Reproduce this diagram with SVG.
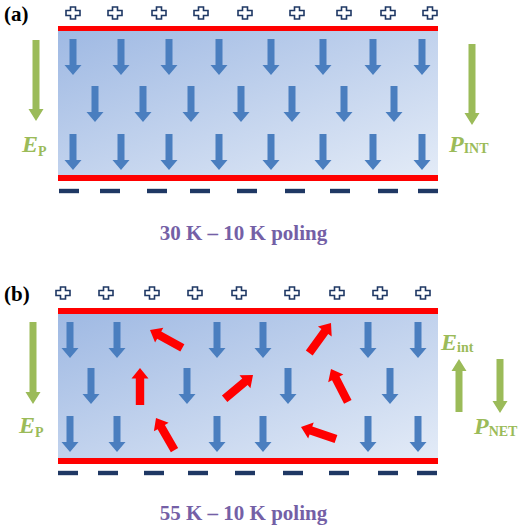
<svg xmlns="http://www.w3.org/2000/svg" xmlns:xlink="http://www.w3.org/1999/xlink" width="520" height="527" viewBox="0 0 520 527">
<style>
.plus{fill:#fff;stroke:#1f3864;stroke-width:1.6}
.minus{fill:#1f3864}
.red{fill:#ff0000}
.blue{fill:#4a7ebf}
.green{fill:#9bbb59}
.lab{font-family:"Liberation Serif",serif;font-weight:bold;font-size:21px;fill:#000}
.cap{font-family:"Liberation Serif",serif;font-weight:bold;font-size:21px;fill:#7460a6}
.sym{font-family:"Liberation Serif",serif;font-weight:bold;font-style:italic;font-size:24px;fill:#9bbb59}
.sub{font-style:normal;font-size:14px}
</style>
<defs>
<linearGradient id="g" x1="0" y1="0" x2="1" y2="1">
<stop offset="0" stop-color="#9fb9e3"/>
<stop offset="1" stop-color="#e3ebf7"/>
</linearGradient>
<path id="plus" class="plus" d="M-2.5,-6H2.5V-2.5H7V2.5H2.5V6H-2.5V2.5H-7V-2.5H-2.5Z"/>
<rect id="minus" class="minus" x="-10" y="-2.2" width="20" height="4.4"/>
<path id="ba" class="blue" d="M-3.5,0H3.5V26H8.5L0,36L-8.5,26H-3.5Z"/>
<path id="ra" class="red" d="M0,0L8.5,10.5H4.2V37H-4.2V10.5H-8.5Z"/>
</defs>

<text class="lab" x="4" y="21">(a)</text>
<g id="panel-a">
<rect x="58" y="31" width="380" height="144" fill="url(#g)"/>
<rect x="58" y="26" width="380" height="5" fill="#ff0000"/>
<rect x="58" y="175" width="380" height="6" fill="#ff0000"/>
<g id="plus-a">
<use href="#plus" x="73" y="13"/><use href="#plus" x="115" y="13"/><use href="#plus" x="159" y="13"/><use href="#plus" x="201" y="13"/><use href="#plus" x="245" y="13"/><use href="#plus" x="297" y="13"/><use href="#plus" x="344" y="13"/><use href="#plus" x="388" y="13"/><use href="#plus" x="430" y="13"/>
</g>
<g id="minus-a">
<use href="#minus" x="69" y="191"/><use href="#minus" x="110" y="191"/><use href="#minus" x="157" y="191"/><use href="#minus" x="200" y="191"/><use href="#minus" x="247" y="191"/><use href="#minus" x="295" y="191"/><use href="#minus" x="340" y="191"/><use href="#minus" x="388" y="191"/><use href="#minus" x="428" y="191"/>
</g>
<g id="dipoles-a">
<use href="#ba" x="73" y="39"/><use href="#ba" x="121" y="39"/><use href="#ba" x="169" y="39"/><use href="#ba" x="219" y="39"/><use href="#ba" x="271" y="39"/><use href="#ba" x="323" y="39"/><use href="#ba" x="373" y="39"/><use href="#ba" x="422" y="39"/>
<use href="#ba" x="95" y="86"/><use href="#ba" x="143" y="86"/><use href="#ba" x="191" y="86"/><use href="#ba" x="241" y="86"/><use href="#ba" x="292" y="86"/><use href="#ba" x="344" y="86"/><use href="#ba" x="394" y="86"/>
<use href="#ba" x="73" y="134"/><use href="#ba" x="121" y="134"/><use href="#ba" x="169" y="134"/><use href="#ba" x="219" y="134"/><use href="#ba" x="271" y="134"/><use href="#ba" x="323" y="134"/><use href="#ba" x="373" y="134"/><use href="#ba" x="422" y="134"/>
</g>
</g>
<g id="ep-a">
<path class="green" d="M32.5,40H39.5V109H43.5L36,121L28.5,109H32.5Z"/>
<text class="sym" x="22" y="152">E<tspan class="sub" dy="4">P</tspan></text>
</g>
<g id="pint-a">
<path class="green" d="M468.5,44H475.5V113H479.5L472,125L464.5,113H468.5Z"/>
<text class="sym" x="449" y="152">P<tspan class="sub" dy="1">INT</tspan></text>
</g>
<text class="cap" x="243.5" y="240" text-anchor="middle">30 K – 10 K poling</text>

<text class="lab" x="4" y="301">(b)</text>
<g id="panel-b">
<rect x="58" y="314" width="380" height="144" fill="url(#g)"/>
<rect x="58" y="308" width="380" height="6" fill="#ff0000"/>
<rect x="58" y="458" width="380" height="6" fill="#ff0000"/>
<g id="plus-b">
<use href="#plus" x="63" y="293"/><use href="#plus" x="106" y="293"/><use href="#plus" x="152" y="293"/><use href="#plus" x="195" y="293"/><use href="#plus" x="239" y="293"/><use href="#plus" x="292" y="293"/><use href="#plus" x="337" y="293"/><use href="#plus" x="380" y="293"/><use href="#plus" x="423" y="293"/>
</g>
<g id="minus-b">
<use href="#minus" x="68" y="473"/><use href="#minus" x="108" y="473"/><use href="#minus" x="154" y="473"/><use href="#minus" x="198" y="473"/><use href="#minus" x="245" y="473"/><use href="#minus" x="293" y="473"/><use href="#minus" x="339" y="473"/><use href="#minus" x="388" y="473"/><use href="#minus" x="427" y="473"/>
</g>
<g id="dipoles-b">
<use href="#ba" x="70" y="322"/><use href="#ba" x="117" y="322"/><use href="#ba" x="217" y="322"/><use href="#ba" x="263" y="322"/><use href="#ba" x="368" y="322"/><use href="#ba" x="418" y="322"/>
<use href="#ba" x="91" y="368"/><use href="#ba" x="187" y="368"/><use href="#ba" x="288" y="368"/><use href="#ba" x="390" y="368"/>
<use href="#ba" x="70" y="416"/><use href="#ba" x="117" y="416"/><use href="#ba" x="217" y="416"/><use href="#ba" x="263" y="416"/><use href="#ba" x="368" y="416"/><use href="#ba" x="418" y="416"/>
<use href="#ra" transform="translate(150,330) rotate(-61)"/>
<use href="#ra" transform="translate(331,323) rotate(36)"/>
<use href="#ra" transform="translate(140,368)"/>
<use href="#ra" transform="translate(253,375) rotate(50)"/>
<use href="#ra" transform="translate(331,369) rotate(-27)"/>
<use href="#ra" transform="translate(156,418) rotate(-30)"/>
<use href="#ra" transform="translate(301,427) rotate(-71)"/>
</g>
</g>
<g id="ep-b">
<path class="green" d="M29.5,322H36.5V392H40.5L33,404L25.5,392H29.5Z"/>
<text class="sym" x="19" y="433">E<tspan class="sub" dy="4">P</tspan></text>
</g>
<g id="eint-b">
<text class="sym" x="441" y="350">E<tspan class="sub" dy="2">int</tspan></text>
<path class="green" d="M455.5,412H462.5V371H466.5L459,359L451.5,371H455.5Z"/>
</g>
<g id="pnet-b">
<path class="green" d="M496.5,359H503.5V401H507.5L500,413L492.5,401H496.5Z"/>
<text class="sym" x="474" y="434">P<tspan class="sub" dy="2">NET</tspan></text>
</g>
<text class="cap" x="243.5" y="520" text-anchor="middle">55 K – 10 K poling</text>
</svg>
